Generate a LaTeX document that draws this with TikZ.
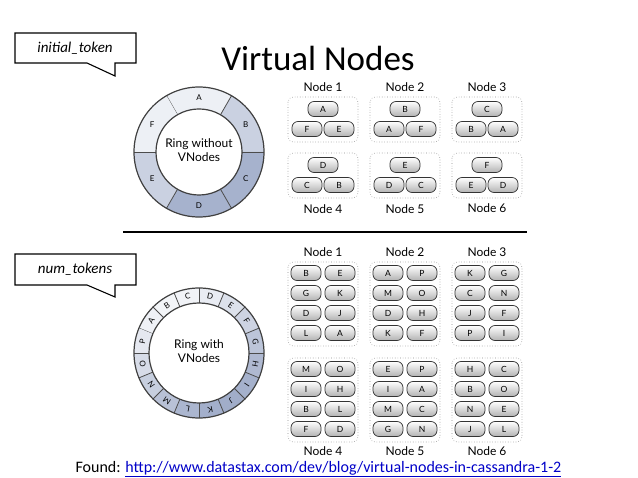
\documentclass[tikz,border=0pt]{standalone}
\usepackage{fontspec}
\setmainfont{Carlito}
\newfontfamily\gill{Lato}
\begin{document}
\begin{tikzpicture}[x=1pt,y=-1pt,
  pill/.style={draw=black!80,line width=0.7pt,rounded corners=6pt,minimum width=30pt,minimum height=15pt,inner sep=0pt,top color=white,bottom color=black!30,font=\gill\fontsize{8.5}{9}\selectfont},
  grp/.style={draw=black!45,dotted,line width=0.6pt,rounded corners=5pt},
  nlab/.style={font=\gill\fontsize{12}{14}\selectfont},
  callout/.style={draw=black,line width=1.1pt,fill=white},
  rl/.style={font=\gill\fontsize{8}{9}\selectfont}]
\definecolor{ringblue}{RGB}{105,125,170}
\useasboundingbox (0,0) rectangle (638,478);
% title
\node (title) at (318,58) {\fontsize{35}{40}\selectfont Virtual Nodes};
% callouts
\draw[callout] (15,33) -- (136,33) -- (136,63) -- (115,63) -- (115,76) -- (87,63) -- (15,63) -- cycle;
\node (c1) at (75,48) {\fontsize{15}{17}\selectfont\itshape initial\_token};
\draw[callout] (15,254) -- (136,254) -- (136,285) -- (115,285) -- (115,297) -- (87,285) -- (15,285) -- cycle;
\node (c2) at (75,269) {\fontsize{15}{17}\selectfont\itshape num\_tokens};
% separator
\draw[line width=1.3pt] (123,232) -- (527,232);
% top ring
\begin{scope}[shift={(199,152)},y=1pt]
\foreach \L [count=\i from 0] in {A,B,C,D,E,F}{
  \pgfmathsetmacro\a{90-60*\i}
  \pgfmathsetmacro\pc{8+55*(1+cos(\a+60))/2}
  \fill[ringblue!\pc!white] (\a+30:65) arc (\a+30:\a-30:65) -- (\a-30:43) arc (\a-30:\a+30:43) -- cycle;
  \draw[black!70,line width=0.8pt] (\a+30:43) -- (\a+30:65);
  \node[rl] (tr\L) at (\a:54) {\L};
}
\draw[black!75,line width=1.2pt] (0,0) circle (65) (0,0) circle (43);
\node[align=center,font=\gill\fontsize{12}{14}\selectfont] (trc) at (0,2) {Ring without\\VNodes};
\end{scope}
% bottom ring
\begin{scope}[shift={(199,353)},y=1pt]
\foreach \L [count=\i from 0] in {A,B,C,D,E,F,G,H,I,J,K,L,M,N,O,P}{
  \pgfmathsetmacro\a{146.25-22.5*\i}
  \pgfmathsetmacro\pc{8+55*(1+cos(\a+60))/2}
  \fill[ringblue!\pc!white] (\a+11.25:65) arc (\a+11.25:\a-11.25:65) -- (\a-11.25:50) arc (\a-11.25:\a+11.25:50) -- cycle;
  \draw[black!70,line width=0.8pt] (\a+11.25:50) -- (\a+11.25:65);
  \node[rl,rotate=\a-90] (br\L) at (\a:57.5) {\L};
}
\draw[black!75,line width=1.2pt] (0,0) circle (65) (0,0) circle (50);
\node[align=center,font=\gill\fontsize{12}{14}\selectfont] (brc) at (0,2) {Ring with\\VNodes};
\end{scope}
% top groups
\foreach \n/\cx/\ty/\ly/\A/\B/\C in {1/323/97/87/A/F/E,2/405/97/87/B/A/F,3/487/97/87/C/B/A,4/323/153/209/D/C/B,5/405/153/209/E/D/C,6/487/153/208/F/E/D}{
  \draw[grp] (\cx-35,\ty) rectangle (\cx+35,\ty+45);
  \node[nlab] (tl\n) at (\cx,\ly) {Node \n};
  \node[pill] (tp\n a) at (\cx,\ty+12) {\A};
  \node[pill] (tp\n b) at (\cx-16,\ty+32) {\B};
  \node[pill] (tp\n c) at (\cx+16,\ty+32) {\C};
}
% bottom groups
\foreach \n/\cx/\ty/\ly/\list in {1/323/262/252/{B,E,G,K,D,J,L,A},2/405/262/252/{A,P,M,O,D,H,K,F},3/487/262/252/{K,G,C,N,J,F,P,I},4/323/358/451/{M,O,I,H,B,L,F,D},5/405/358/451/{E,P,I,A,M,C,G,N},6/487/358/451/{H,C,B,O,N,E,J,L}}{
  \draw[grp] (\cx-35,\ty) rectangle (\cx+35,\ty+84);
  \node[nlab] (bl\n) at (\cx,\ly) {Node \n};
  \foreach \L [count=\k from 0] in \list {
    \pgfmathtruncatemacro\row{int(\k/2)}
    \pgfmathtruncatemacro\col{mod(\k,2)}
    \node[pill] (bp\n-\k) at (\cx-17+34*\col,\ty+11+20*\row) {\L};
  }
}
% footer
\node[anchor=west] (foot) at (72,469) {\fontsize{16}{18}\selectfont Found: \textcolor[RGB]{0,0,200}{\underline{http://www.datastax.com/dev/blog/virtual-nodes-in-cassandra-1-2}}};
\end{tikzpicture}
\end{document}
